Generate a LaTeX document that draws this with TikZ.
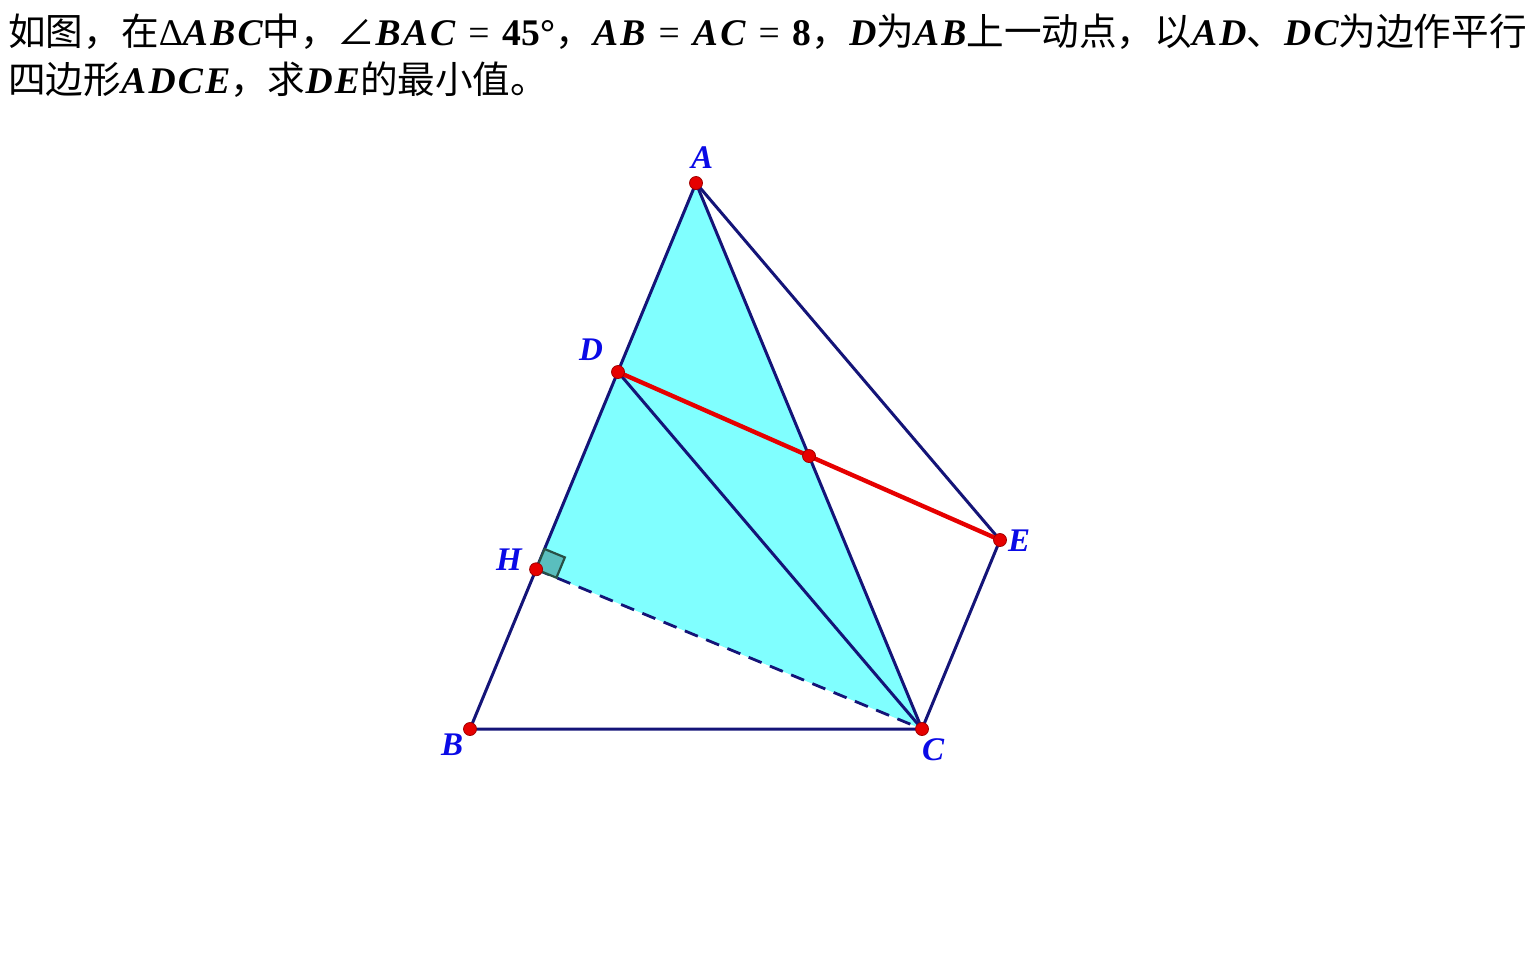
\documentclass[tikz,border=0pt]{standalone}
\usepackage{fontspec}
\usetikzlibrary{calc}
\setmainfont{Liberation Serif}
\newfontfamily\cjk{Noto Sans CJK SC}
\newfontfamily\myitfont[LetterSpace=6]{Liberation Serif}
\newcommand{\mi}[1]{{\myitfont\bfseries\itshape #1}}
\newcommand{\mn}[1]{{\rmfamily\bfseries #1}}
\newcommand{\meq}{\hspace{0.35em}{\rmfamily =}\hspace{0.35em}}
\definecolor{navyline}{RGB}{20,20,120}
\definecolor{cyanfill}{RGB}{128,255,255}
\definecolor{ptred}{RGB}{230,0,0}
\definecolor{lblue}{RGB}{10,10,230}
\definecolor{sqfill}{RGB}{90,190,190}
\definecolor{sqline}{RGB}{40,80,70}
\tikzset{
  edge/.style={draw=navyline,line width=1.5pt},
  redseg/.style={draw=ptred,line width=2.2pt},
  dashseg/.style={draw=navyline,line width=1.4pt,dash pattern=on 7pt off 4.5pt},
  ptdot/.style={circle,fill=ptred,draw=ptred!70!black,line width=0.4pt,inner sep=0pt,minimum size=6.5pt},
  lbl/.style={text=lblue,font=\fontsize{16.5}{18}\selectfont\bfseries\itshape,inner sep=0pt},
  qtext/.style={anchor=base west,inner sep=0pt,font=\fontsize{18.8}{22}\selectfont\cjk}
}
\begin{document}
\begin{tikzpicture}[x=0.5pt,y=-0.5pt]
\useasboundingbox (0,0) rectangle (1535,959);
\fill[white] (0,0) rectangle (1535,959);
\node[qtext] (q1) at (8,45) {如图，在{\rmfamily Δ}\mi{ABC}中，∠\mi{BAC}\meq\mn{45°}，\mi{AB}\meq\mi{AC}\meq\mn{8}，\mi{D}为\mi{AB}上一动点，以\mi{AD}、\mi{DC}为边作平行};
\node[qtext] (q2) at (8,93) {四边形\mi{ADCE}，求\mi{DE}的最小值。};
\coordinate (A) at (696,183);
\coordinate (B) at (470,729);
\coordinate (C) at (922,729);
\coordinate (D) at (618,372);
\coordinate (E) at (1000,540);
\coordinate (H) at (536.1,569.3);
\coordinate (M) at ($(D)!0.5!(E)$);
\fill[cyanfill] (A) -- (H) -- (C) -- cycle;
\draw[dashseg] (H) -- (C);
\draw[edge] (A) -- (B) -- (C) -- cycle;
\draw[edge] (A) -- (E) -- (C);
\draw[edge] (D) -- (C);
\draw[redseg] (D) -- (E);
\draw[fill=sqfill,draw=sqline,line width=1.1pt] (H) -- ++(0.3825*22,-0.924*22) coordinate (s1) -- ++(0.924*22,0.3825*22) coordinate (s2) -- ++(-0.3825*22,0.924*22) coordinate (s3) -- cycle;
\foreach \p in {A,B,C,D,E,H,M} \node[ptdot] at (\p) {};
\node[lbl] (lA) at (702,158) {A};
\node[lbl] (lD) at (591,350) {D};
\node[lbl] (lH) at (509,560) {H};
\node[lbl] (lB) at (452,745) {B};
\node[lbl] (lC) at (933,750) {C};
\node[lbl] (lE) at (1019,541) {E};
\end{tikzpicture}
\end{document}
